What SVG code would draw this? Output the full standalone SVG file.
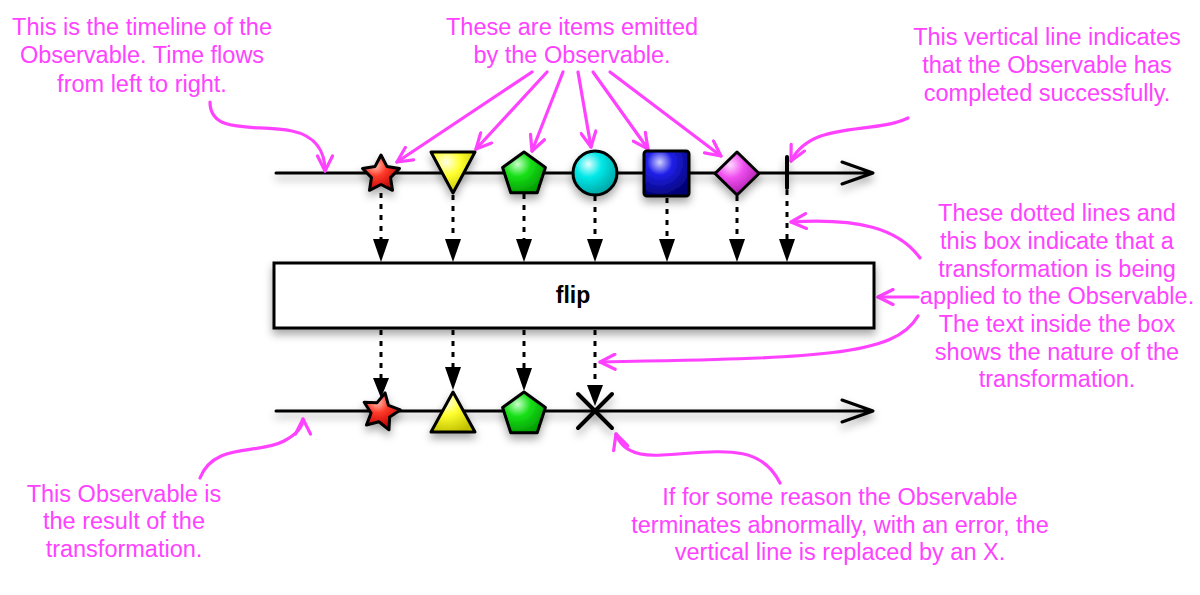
<svg xmlns="http://www.w3.org/2000/svg" width="1200" height="595" viewBox="0 0 1200 595">
<style>
.note{font-family:"Liberation Sans",Helvetica,Arial,sans-serif;font-size:23.5px;fill:#ff42ff;text-anchor:middle}
.pk{fill:none;stroke:#ff42ff;stroke-width:3.2;stroke-linecap:round;marker-end:url(#pa)}
.tl{fill:none;stroke:#000;stroke-width:3;stroke-linecap:round;stroke-linejoin:round}
.dot{fill:none;stroke:#000;stroke-width:3;stroke-dasharray:5 6}
.ah{fill:#000}
.shp{stroke:#000;stroke-width:3;stroke-linejoin:round}
</style>
<defs>
<filter id="sh" filterUnits="userSpaceOnUse" x="0" y="0" width="1200" height="595">
<feDropShadow dx="0" dy="5" stdDeviation="4" flood-color="#000" flood-opacity="0.35"/>
</filter>
<marker id="pa" viewBox="-17 -9 20 18" refX="0" refY="0" markerWidth="20" markerHeight="18" orient="auto" markerUnits="userSpaceOnUse">
<path d="M-15,-7.5 L0,0 L-15,7.5" fill="none" stroke="#ff42ff" stroke-width="3.2" stroke-linecap="round" stroke-linejoin="round"/>
</marker>
<radialGradient id="gR" cx="35%" cy="30%" r="75%"><stop offset="0" stop-color="#ffc0b0"/><stop offset="0.4" stop-color="#ff3a2a"/><stop offset="1" stop-color="#b80000"/></radialGradient>
<radialGradient id="gY" cx="35%" cy="25%" r="80%"><stop offset="0" stop-color="#ffffe8"/><stop offset="0.4" stop-color="#ffff30"/><stop offset="1" stop-color="#c0c000"/></radialGradient>
<radialGradient id="gG" cx="35%" cy="30%" r="75%"><stop offset="0" stop-color="#c8ffc8"/><stop offset="0.4" stop-color="#18e018"/><stop offset="1" stop-color="#009a00"/></radialGradient>
<radialGradient id="gC" cx="35%" cy="30%" r="75%"><stop offset="0" stop-color="#e0ffff"/><stop offset="0.4" stop-color="#00e8e8"/><stop offset="1" stop-color="#00a0a0"/></radialGradient>
<radialGradient id="gB" cx="35%" cy="25%" r="80%"><stop offset="0" stop-color="#d0d0ff"/><stop offset="0.35" stop-color="#2020e8"/><stop offset="1" stop-color="#000070"/></radialGradient>
<radialGradient id="gM" cx="35%" cy="30%" r="75%"><stop offset="0" stop-color="#ffd8ff"/><stop offset="0.4" stop-color="#f050f0"/><stop offset="1" stop-color="#a818a8"/></radialGradient>
<polygon id="star" points="0,-19.5 5.9,-8.1 18.5,-6 9.5,3.1 11.5,15.8 0,10 -11.5,15.8 -9.5,3.1 -18.5,-6 -5.9,-8.1"/>
<polygon id="pent" points="0,-22.5 21.4,-6.95 13.2,18.2 -13.2,18.2 -21.4,-6.95"/>
</defs>
<rect width="1200" height="595" fill="#fff"/>

<g id="timeline-top" filter="url(#sh)">
<path class="tl" d="M276,173 L872,173 M842,162 L873,173 L842,184"/>
</g>
<g id="timeline-bottom" filter="url(#sh)">
<path class="tl" d="M276,411 L872,411 M842,400 L873,411 L842,422"/>
</g>

<g id="connectors">
<g id="dotted-top">
<path class="dot" d="M381,193 V240 M453,195 V240 M524,194 V240 M595,196 V240 M667,198 V240 M737,196 V240 M787,190 V240"/>
<polygon class="ah" points="373,239 389,239 381,262"/>
<polygon class="ah" points="445,239 461,239 453,262"/>
<polygon class="ah" points="516,239 532,239 524,262"/>
<polygon class="ah" points="587,239 603,239 595,262"/>
<polygon class="ah" points="659,239 675,239 667,262"/>
<polygon class="ah" points="729,239 745,239 737,262"/>
<polygon class="ah" points="779,239 795,239 787,262"/>
</g>
<g id="dotted-bottom">
<path class="dot" d="M381,330 V379 M453,330 V368 M524,330 V369 M595,330 V386"/>
<polygon class="ah" points="373,378 389,378 381,398"/>
<polygon class="ah" points="445,367 461,367 453,390"/>
<polygon class="ah" points="516,368 532,368 524,391"/>
<polygon class="ah" points="587,385 603,385 595,406"/>
</g>
<g id="pink-arrows">
<path class="pk" d="M210,102 C210,135 255,124 292,131 C316,136 325,152 325,171"/>
<path class="pk" d="M532,72 L397,162"/>
<path class="pk" d="M547,72 L476,149"/>
<path class="pk" d="M563,72 L532,151"/>
<path class="pk" d="M578,72 L591,147"/>
<path class="pk" d="M593,72 L648,149"/>
<path class="pk" d="M610,72 L721,156"/>
<path class="pk" d="M908,118 C872,135 812,120 791,161"/>
<path class="pk" d="M920,258 C898,228 858,218 791,222"/>
<path class="pk" d="M918,297 L878,297"/>
<path class="pk" d="M918,316 C895,356 820,358 600,362"/>
<path class="pk" d="M200,478 C214,442 258,455 284,441 C297,434 303,426 303,419"/>
<path class="pk" d="M780,483 C760,442 718,452 662,455 C632,457 620,446 616,434"/>
</g>
</g>

<g id="box-flip">
<rect x="274" y="263" width="600" height="65" fill="#fff" stroke="#000" stroke-width="3" filter="url(#sh)"/>
<text x="573" y="303" font-family="Liberation Sans,Helvetica,Arial,sans-serif" font-size="23" font-weight="bold" text-anchor="middle" fill="#000">flip</text>
</g>

<g id="item-star" filter="url(#sh)"><use href="#star" transform="translate(381,174.5)" fill="url(#gR)" class="shp"/></g>
<g id="item-triangle" filter="url(#sh)"><polygon points="431,152 475,152 453,193" fill="url(#gY)" class="shp"/></g>
<g id="item-pentagon" filter="url(#sh)"><use href="#pent" transform="translate(524,174.5)" fill="url(#gG)" class="shp"/></g>
<g id="item-circle" filter="url(#sh)"><circle cx="595" cy="173" r="22" fill="url(#gC)" class="shp"/></g>
<g id="item-square" filter="url(#sh)"><rect x="644" y="151" width="45" height="45" rx="3" fill="url(#gB)" class="shp"/></g>
<g id="item-diamond" filter="url(#sh)"><polygon points="737,152 759,173.5 737,195 715,173.5" fill="url(#gM)" class="shp"/></g>
<g id="complete-line" filter="url(#sh)"><line x1="787" y1="157" x2="787" y2="188" stroke="#000" stroke-width="4" stroke-linecap="round"/></g>

<g id="out-star" filter="url(#sh)"><use href="#star" transform="translate(381,412) rotate(12)" fill="url(#gR)" class="shp"/></g>
<g id="out-triangle" filter="url(#sh)"><polygon points="453,392 475,432 431,432" fill="url(#gY)" class="shp"/></g>
<g id="out-pentagon" filter="url(#sh)"><use href="#pent" transform="translate(524,414.5)" fill="url(#gG)" class="shp"/></g>
<g id="error-x" filter="url(#sh)"><path d="M578,394 L612,428 M612,394 L578,428" stroke="#000" stroke-width="4" stroke-linecap="round" fill="none"/></g>

<g id="note-timeline">
<text class="note" x="142" y="35">This is the timeline of the</text>
<text class="note" x="142" y="63">Observable. Time flows</text>
<text class="note" x="142" y="92">from left to right.</text>
</g>
<g id="note-items">
<text class="note" x="572" y="35">These are items emitted</text>
<text class="note" x="572" y="63">by the Observable.</text>
</g>
<g id="note-complete">
<text class="note" x="1047" y="45">This vertical line indicates</text>
<text class="note" x="1047" y="73">that the Observable has</text>
<text class="note" x="1047" y="101">completed successfully.</text>
</g>
<g id="note-transform">
<text class="note" x="1057" y="221">These dotted lines and</text>
<text class="note" x="1057" y="249">this box indicate that a</text>
<text class="note" x="1057" y="277">transformation is being</text>
<text class="note" x="1057" y="304">applied to the Observable.</text>
<text class="note" x="1057" y="332">The text inside the box</text>
<text class="note" x="1057" y="360">shows the nature of the</text>
<text class="note" x="1057" y="387">transformation.</text>
</g>
<g id="note-result">
<text class="note" x="124" y="502">This Observable is</text>
<text class="note" x="124" y="529">the result of the</text>
<text class="note" x="124" y="557">transformation.</text>
</g>
<g id="note-error">
<text class="note" x="840" y="505">If for some reason the Observable</text>
<text class="note" x="840" y="533">terminates abnormally, with an error, the</text>
<text class="note" x="840" y="560">vertical line is replaced by an X.</text>
</g>
</svg>
